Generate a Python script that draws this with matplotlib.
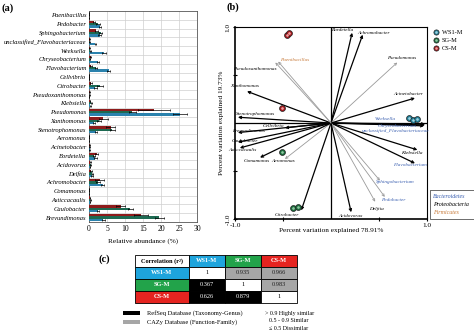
import numpy as np
import matplotlib
matplotlib.use('Agg')
import matplotlib.pyplot as plt
from matplotlib.patches import Rectangle

plt.rcParams['font.family'] = ['Liberation Serif', 'DejaVu Serif']

W, H = 474, 332
fig = plt.figure(figsize=(W / 100, H / 100), dpi=100)


def rect(x0, y0, x1, y1):
    return [x0 / W, 1 - y1 / H, (x1 - x0) / W, (y1 - y0) / H]


# ---------------- Panel (a) data ----------------
genera = ['Paenibacillus', 'Pedobacter', 'Sphingobacterium', 'unclassified_Flavobacteriaceae',
          'Weeksella', 'Chryseobacterium', 'Flavobacterium', 'Cellvibrio', 'Citrobacter',
          'Pseudoxanthomonas', 'Klebsiella', 'Pseudomonas', 'Xanthomonas', 'Stenotrophomonas',
          'Aeromonas', 'Acinetobacter', 'Bordetella', 'Acidovorax', 'Delftia', 'Achromobacter',
          'Comamonas', 'Asticcacaulis', 'Caulobacter', 'Brevundimonas']
cs_m = [0.05, 1.5, 2.0, 0.2, 0.2, 0.5, 0.6, 0.05, 0.5, 0.2, 0.3, 18.0, 4.0, 6.0,
        0.05, 0.2, 2.2, 0.4, 0.5, 3.0, 0.05, 0.3, 8.8, 14.5]
cs_err = [0.0, 0.3, 0.4, 0.1, 0.1, 0.1, 0.2, 0.0, 0.2, 0.1, 0.1, 4.5, 1.2, 1.2,
          0.0, 0.1, 0.4, 0.1, 0.2, 1.2, 0.0, 0.1, 1.2, 2.0]
sg_m = [0.05, 2.5, 3.2, 0.2, 0.4, 0.3, 2.0, 0.05, 3.0, 0.1, 0.6, 12.0, 2.8, 6.5,
        0.05, 0.1, 1.3, 0.5, 0.9, 2.5, 0.05, 0.4, 11.5, 19.5]
sg_err = [0.0, 0.5, 0.5, 0.1, 0.1, 0.1, 0.3, 0.0, 0.8, 0.1, 0.1, 1.0, 0.5, 0.8,
          0.0, 0.1, 0.3, 0.1, 0.2, 0.5, 0.0, 0.1, 0.8, 1.2]
ws_m = [0.05, 3.0, 3.0, 1.8, 4.2, 2.5, 5.5, 0.1, 1.8, 0.1, 0.4, 25.3, 1.5, 2.0,
        0.05, 0.2, 1.8, 0.3, 0.8, 3.8, 0.05, 0.3, 2.5, 4.0]
ws_err = [0.0, 0.3, 0.4, 0.2, 0.5, 0.3, 0.4, 0.0, 0.3, 0.0, 0.1, 2.0, 0.3, 0.3,
          0.0, 0.1, 0.3, 0.1, 0.2, 0.5, 0.0, 0.1, 0.3, 0.5]
abund_ticks = [0, 5, 10, 15, 20, 25, 30]

RED, GREEN, BLUE = '#8e1b1b', '#1d6a52', '#2b82ad'

axa = fig.add_axes(rect(89, 11, 197, 222))
n = len(genera)
y = np.arange(n)
h = 0.27
ekw = dict(ecolor='black', elinewidth=0.5, capsize=0.8, capthick=0.5)
axa.barh(y - h, cs_m, height=h, color=RED, xerr=cs_err, error_kw=ekw, zorder=3)
axa.barh(y, sg_m, height=h, color=GREEN, xerr=sg_err, error_kw=ekw, zorder=3)
axa.barh(y + h, ws_m, height=h, color=BLUE, xerr=ws_err, error_kw=ekw, zorder=3)
axa.set_ylim(n - 0.5, -0.5)
axa.set_xlim(abund_ticks[0], abund_ticks[-1])
axa.set_xticks(abund_ticks)
axa.set_yticks(y)
axa.set_yticklabels(genera, fontstyle='italic', fontsize=4.7)
axa.set_yticks(np.arange(n - 1) + 0.5, minor=True)
axa.tick_params(axis='y', which='both', length=0, pad=2)
axa.tick_params(axis='x', length=0, labelsize=5.5, pad=2)
axa.grid(True, axis='x', color='#cfcfcf', lw=0.5, zorder=0)
axa.grid(True, axis='y', which='minor', color='#cfcfcf', lw=0.5, zorder=0)
for s in axa.spines.values():
    s.set_linewidth(0.6)
    s.set_color('#555555')
axa.set_xlabel('Relative abundance (%)', fontsize=5.2, labelpad=4)

# ---------------- Panel (b) data ----------------
vec_names = ['Bordetella', 'Achromobacter', 'Pseudomonas', 'Acinetobacter', 'Weeksella',
             'Chryseobacterium', 'unclassified_Flavobacteriaceae', 'Klebsiella', 'Flavobacterium',
             'Sphingobacterium', 'Pedobacter', 'Delftia', 'Acidovorax', 'Citrobacter', 'Aeromonas',
             'Comamonas', 'Asticcacaulis', 'Caulobacter', 'Brevundimonas', 'Cellvibrio',
             'Stenotrophomonas', 'Xanthomonas', 'Pseudoxanthomonas', 'Paenibacillus']
vec_x = [0.22, 0.33, 0.69, 0.875, 0.98, 0.98, 0.97, 0.90, 0.875, 0.51, 0.56, 0.46, 0.21,
         -0.31, -0.48, -0.74, -0.95, -0.97, -0.97, -0.48, -0.97, -0.875, -0.58, -0.55]
vec_y = [0.94, 0.92, 0.63, 0.26, -0.01, -0.02, -0.03, -0.28, -0.42, -0.60, -0.77, -0.82,
         -0.93, -0.91, -0.375, -0.36, -0.26, -0.20, -0.10, -0.05, 0.06, 0.33, 0.63, 0.64]
vec_phylum = ['P', 'P', 'P', 'P', 'B', 'B', 'B', 'P', 'B', 'B', 'B', 'P', 'P', 'P', 'P',
              'P', 'P', 'P', 'P', 'P', 'P', 'P', 'P', 'F']
vec_gray = [False, False, True, False, False, False, False, False, False, True, True, True,
            False, False, True, False, False, False, False, False, False, False, True, True]
lab_x = [0.125, 0.44, 0.74, 0.80, 0.56, 0.69, 0.67, 0.84, 0.82, 0.67, 0.65, 0.47, 0.20,
         -0.46, -0.50, -0.77, -0.92, -0.90, -0.85, -0.60, -0.79, -0.90, -0.79, -0.375]
lab_y = [0.97, 0.94, 0.68, 0.30, 0.04, -0.03, -0.08, -0.31, -0.44, -0.61, -0.80, -0.90,
         -0.97, -0.96, -0.40, -0.40, -0.28, -0.19, -0.08, -0.03, 0.09, 0.39, 0.56, 0.66]

samples = ['WS1-M', 'SG-M', 'CS-M']
score_x = [[0.81, 0.85, 0.90], [-0.51, -0.40, -0.34], [-0.46, -0.44, -0.51]]
score_y = [[0.05, 0.03, 0.04], [-0.30, -0.885, -0.875], [0.92, 0.94, 0.16]]
var_x, var_y = 78.91, 19.73

PHY_COL = {'B': '#3a5fb0', 'P': 'black', 'F': '#c77a3a'}
SAMPLE_COL = ['#1f7d96', '#1c6b3c', '#a3171c']
SAMPLE_CORE = ['#9fd3e0', '#8fc9a2', '#f0a0a0']

axb = fig.add_axes(rect(235, 27, 427, 219))
axb.set_xlim(-1.0, 1.0)
axb.set_ylim(-1.0, 1.0)
axb.axhline(0, color='black', lw=0.9, zorder=1)
axb.axvline(0, color='black', lw=0.9, zorder=1)
for i, nm in enumerate(vec_names):
    col = '#9a9a9a' if vec_gray[i] else 'black'
    lw = 0.6 if vec_gray[i] else 0.9
    axb.annotate('', xy=(vec_x[i], vec_y[i]), xytext=(0, 0),
                 arrowprops=dict(arrowstyle='->', color=col, lw=lw, mutation_scale=4,
                                 shrinkA=0, shrinkB=0), zorder=2)
    axb.text(lab_x[i], lab_y[i], nm, fontsize=3.8, fontstyle='italic',
             color=PHY_COL[vec_phylum[i]], ha='center', va='center', zorder=4)
for k, s in enumerate(samples):
    axb.scatter(score_x[k], score_y[k], s=18, color=SAMPLE_COL[k], edgecolor='#222222',
                linewidth=0.5, zorder=5)
    axb.scatter(score_x[k], score_y[k], s=0.8, color=SAMPLE_CORE[k], zorder=6)
axb.set_xticks([-1.0, -0.5, 0.5, 1.0])
axb.set_xticklabels(['-1.0', '', '', '1.0'])
axb.set_yticks([-1.0, -0.5, 0.5, 1.0])
axb.set_yticklabels(['-1.0', '', '', '1.0'], rotation=90, va='center')
axb.tick_params(direction='inout', length=3, width=0.8, labelsize=5.2, pad=1.5)
for side, s in axb.spines.items():
    s.set_linewidth(1.2 if side in ('left', 'bottom') else 0.8)
axb.set_xlabel(f'Percent variation explained {var_x:.2f}%', fontsize=5.2, labelpad=0)
axb.set_ylabel(f'Percent variation explained {var_y:.2f}%', fontsize=5.2, labelpad=1)

# ---------------- Panel (c) data ----------------
corr_samples = ['WS1-M', 'SG-M', 'CS-M']
corr = [[1, 0.935, 0.966],
        [0.367, 1, 0.983],
        [0.626, 0.879, 1]]
HEAD_COL = ['#1ea4dc', '#22a34a', '#e52420']

ov = fig.add_axes([0, 0, 1, 1])
ov.set_xlim(0, W)
ov.set_ylim(H, 0)
ov.axis('off')
ov.patch.set_alpha(0)

ov.text(2, 8, '(a)', fontsize=7.5, fontweight='bold', va='center')
ov.text(227, 7, '(b)', fontsize=7.5, fontweight='bold', va='center')
ov.text(99, 259, '(c)', fontsize=7.5, fontweight='bold', va='center')

# legend of (b)
for k, s in enumerate(samples):
    yy = 32 + 8 * k
    ov.scatter([436], [yy], s=14, color=SAMPLE_COL[k], edgecolor='#222222', linewidth=0.5)
    ov.scatter([436], [yy], s=0.7, color=SAMPLE_CORE[k])
    ov.text(442, yy, s, fontsize=4.6, va='center')
ov.add_patch(Rectangle((430, 190), 50, 29, fill=False, edgecolor='#555555', lw=0.6))
for k, (ph, c) in enumerate([('Bacteroidetes', 'B'), ('Proteobacteria', 'P'), ('Firmicutes', 'F')]):
    ov.text(433, 197 + 7.5 * k, ph, fontsize=4.3, fontstyle='italic', color=PHY_COL[c], va='center')

# table
col_edges = [135, 189, 225, 261, 297]
row_edges = [255, 267, 279, 291, 303]


def cell(r, c, fc, txt, tc, bold=False, fs=4.6):
    x0, x1 = col_edges[c], col_edges[c + 1]
    y0, y1 = row_edges[r], row_edges[r + 1]
    ov.add_patch(Rectangle((x0, y0), x1 - x0, y1 - y0, facecolor=fc, edgecolor='black', lw=0.6))
    ov.text((x0 + x1) / 2, (y0 + y1) / 2, txt, color=tc, fontsize=fs, ha='center', va='center',
            fontweight='bold' if bold else 'normal')


cell(0, 0, 'white', 'Correlation (r²)', 'black', bold=True)
for j, s in enumerate(corr_samples):
    cell(0, j + 1, HEAD_COL[j], s, 'white', bold=True)
    cell(j + 1, 0, HEAD_COL[j], s, 'white', bold=True)
for i in range(3):
    for j in range(3):
        v = corr[i][j]
        if i == j:
            cell(i + 1, j + 1, 'white', f'{v:g}', 'black')
        elif j > i:
            cell(i + 1, j + 1, '#a6a6a6', f'{v:.3f}', '#222222')
        else:
            cell(i + 1, j + 1, 'black', f'{v:.3f}', 'white')

ov.add_patch(Rectangle((123, 311), 17, 4, facecolor='black', edgecolor='none'))
ov.text(147, 313, 'RefSeq Database (Taxonomy-Genus)', fontsize=4.6, va='center')
ov.add_patch(Rectangle((123, 320), 17, 4, facecolor='#a6a6a6', edgecolor='none'))
ov.text(147, 322, 'CAZy Database (Function-Family)', fontsize=4.6, va='center')
ov.text(265, 313, '> 0.9 Highly similar', fontsize=4.3, va='center')
ov.text(269, 321, '0.5 - 0.9 Similar', fontsize=4.3, va='center')
ov.text(269, 329, '≤ 0.5 Dissimilar', fontsize=4.3, va='center')

fig.savefig('out.png', dpi=100)
